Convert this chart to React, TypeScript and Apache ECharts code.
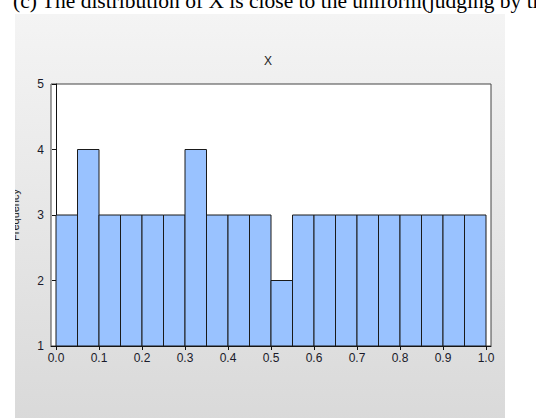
import React, { useEffect, useRef } from "react";
import * as echarts from "echarts";

const binStarts = [0.0, 0.05, 0.1, 0.15, 0.2, 0.25, 0.3, 0.35, 0.4, 0.45, 0.5, 0.55, 0.6, 0.65, 0.7, 0.75, 0.8, 0.85, 0.9, 0.95];
const frequencies = [3, 4, 3, 3, 3, 3, 4, 3, 3, 3, 2, 3, 3, 3, 3, 3, 3, 3, 3, 3];
const binWidth = 0.05;
const xTicks = [0.0, 0.1, 0.2, 0.3, 0.4, 0.5, 0.6, 0.7, 0.8, 0.9, 1.0];
const yMin = 1;
const yMax = 5;
const chartTitle = "X";
const yAxisName = "Frequency";
const caption = "(c) The distribution of X is close to the uniform(judging by the histogram).";

export default function App() {
  const ref = useRef<HTMLDivElement>(null);
  useEffect(() => {
    if (!ref.current) return;
    const chart = echarts.init(ref.current, null, { renderer: "svg" });
    const font = "Liberation Sans, Arial, sans-serif";
    chart.setOption({
      animation: false,
      backgroundColor: "#ffffff",
      title: {
        text: chartTitle,
        left: "center",
        top: 50,
        textStyle: { fontFamily: font, fontSize: 12, fontWeight: "normal", color: "#222" },
      },
      graphic: [
        {
          type: "rect",
          z: -10,
          shape: { x: 15, y: 14, width: 490, height: 410 },
          style: {
            fill: new echarts.graphic.LinearGradient(0, 0, 0, 1, [
              { offset: 0, color: "#f4f4f4" },
              { offset: 1, color: "#d9d9d9" },
            ]),
          },
        },
        {
          type: "rect",
          z: 100,
          shape: { x: 0, y: 14, width: 15, height: 410 },
          style: { fill: "#ffffff" },
        },
        {
          type: "text",
          z: 100,
          x: 13,
          y: 12,
          style: {
            text: caption,
            fontFamily: "Liberation Serif, Times New Roman, serif",
            fontSize: 21.5,
            fill: "#000",
            verticalAlign: "bottom",
          },
        },
      ],
      grid: {
        left: 51,
        right: 45,
        top: 84,
        bottom: 72,
        outerBoundsMode: "none",
        containLabel: false,
        show: true,
        backgroundColor: "#ffffff",
        borderColor: "#444",
        borderWidth: 1,
      },
      xAxis: {
        type: "value",
        min: -5 / 430,
        max: 1 + 5 / 430,
        axisLine: { show: true, lineStyle: { color: "#111", width: 1 } },
        axisTick: { show: true, length: 4, customValues: xTicks, lineStyle: { color: "#111" } },
        axisLabel: {
          customValues: xTicks,
          formatter: (v: number) => v.toFixed(1),
          fontFamily: font,
          fontSize: 12,
          color: "#1a1a2a",
          margin: 6,
        },
        splitLine: { show: false },
      },
      yAxis: {
        type: "value",
        min: yMin,
        max: yMax,
        interval: 1,
        name: yAxisName,
        nameLocation: "middle",
        nameRotate: 90,
        nameGap: 31,
        nameTextStyle: { fontFamily: font, fontSize: 11, color: "#222" },
        axisLine: { show: true, lineStyle: { color: "#111", width: 1 } },
        axisTick: { show: true, length: 4, lineStyle: { color: "#111" } },
        axisLabel: { fontFamily: font, fontSize: 12, color: "#1a1a2a", margin: 7 },
        splitLine: { show: false },
      },
      series: [
        {
          type: "custom",
          data: binStarts.map((s, i) => [s, frequencies[i]]),
          renderItem: (params: any, api: any) => {
            const x0 = api.value(0);
            const c = api.value(1);
            const p1 = api.coord([x0, c]);
            const p2 = api.coord([x0 + binWidth, yMin]);
            return {
              type: "rect",
              shape: { x: p1[0], y: p1[1], width: p2[0] - p1[0], height: p2[1] - p1[1] },
              style: { fill: "#99c2ff", stroke: "#1a1a1a", lineWidth: 1 },
            };
          },
        },
      ],
    });
    return () => chart.dispose();
  }, []);
  return (
    <div
      ref={ref}
      style={{ position: "absolute", left: 0, top: 0, width: 536, height: 418 }}
    />
  );
}
